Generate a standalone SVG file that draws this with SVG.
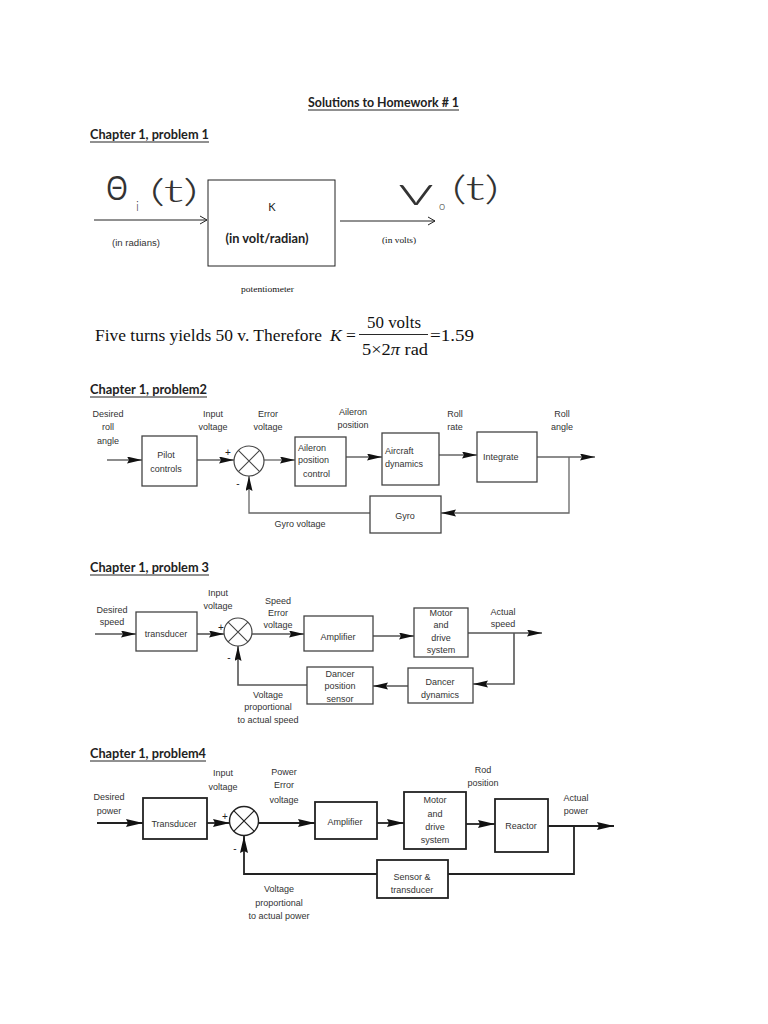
<svg xmlns="http://www.w3.org/2000/svg" width="768" height="1024" viewBox="0 0 768 1024">
<style>
.hd{font-family:Lato,"Liberation Sans",sans-serif;font-weight:bold;font-size:13px;fill:#222}
.ul{stroke:#222;stroke-width:1}
.box{fill:#fff;stroke:#444;stroke-width:1.3}
.box4{fill:#fff;stroke:#222;stroke-width:1.8}
.ln{fill:none;stroke:#666;stroke-width:1.3}
.ln3{fill:none;stroke:#555;stroke-width:1.6}
.ln4{fill:none;stroke:#222;stroke-width:1.8}
.thin{fill:none;stroke:#222;stroke-width:1}
.lbl{font-family:"Liberation Sans",Arial,sans-serif;font-size:9px;fill:#333;text-anchor:middle}
.lbs{font-family:"Liberation Sans",Arial,sans-serif;font-size:9px;fill:#333}
.sg{font-family:"Liberation Sans",Arial,sans-serif;font-size:10px;fill:#222;text-anchor:middle}
.ser{font-family:"Liberation Serif","Times New Roman",serif;fill:#111}
.hw{font-family:Lato,"Open Sans",sans-serif;font-weight:300;fill:#333}
.hwg{font-family:"Open Sans","Noto Sans","DejaVu Sans",sans-serif;fill:#333}
</style>
<defs>
<marker id="a" markerUnits="userSpaceOnUse" markerWidth="15" markerHeight="8" refX="15" refY="3.5" orient="auto"><path d="M0,0 L15,3.5 L0,7 L2,3.5 Z" fill="#111"/></marker>
<marker id="a4" markerUnits="userSpaceOnUse" markerWidth="17" markerHeight="9" refX="17" refY="4" orient="auto"><path d="M0,0 L17,4 L0,8 L2,4 Z" fill="#111"/></marker>
<marker id="o" markerUnits="userSpaceOnUse" markerWidth="9" markerHeight="10" refX="8" refY="5" orient="auto"><path d="M1,1 L8,5 L1,9" fill="none" stroke="#222" stroke-width="1"/></marker>
</defs>

<!-- Title -->
<g id="title">
<text class="hd" x="308" y="107" textLength="151" lengthAdjust="spacingAndGlyphs">Solutions to Homework # 1</text>
<line class="ul" x1="308" y1="110" x2="459" y2="110"/>
</g>

<!-- Problem 1 -->
<g id="p1-heading">
<text class="hd" x="90" y="139" textLength="119" lengthAdjust="spacingAndGlyphs">Chapter 1, problem 1</text>
<line class="ul" x1="90" y1="142" x2="209" y2="142"/>
</g>
<g id="p1-connectors">
<line class="thin" x1="94" y1="220" x2="207" y2="220" marker-end="url(#o)"/>
<line class="thin" x1="340" y1="221" x2="435" y2="221" marker-end="url(#o)"/>
</g>
<g id="p1-K">
<rect x="208" y="180" width="127" height="86" fill="#fff" stroke="#222" stroke-width="1"/>
<text x="272" y="211" font-family="Lato,'Liberation Sans',sans-serif" font-size="11" fill="#222" text-anchor="middle">K</text>
<text x="267" y="243" font-family="Lato,'Liberation Sans',sans-serif" font-size="12.5" font-weight="bold" fill="#222" text-anchor="middle" textLength="83" lengthAdjust="spacingAndGlyphs">(in volt/radian)</text>
</g>
<g id="p1-labels">
<text x="112" y="246" font-family="'Liberation Sans',Arial,sans-serif" font-size="8.5" fill="#333" textLength="48" lengthAdjust="spacingAndGlyphs">(in radians)</text>
<text x="382" y="243" class="ser" font-size="8" textLength="34" lengthAdjust="spacingAndGlyphs">(in volts)</text>
<text x="241" y="292" class="ser" font-size="8" textLength="53" lengthAdjust="spacingAndGlyphs">potentiometer</text>
<text class="hwg" x="106" y="200" font-size="32" textLength="22" lengthAdjust="spacingAndGlyphs">Θ</text>
<text class="hw" x="136" y="211" font-size="13">i</text>
<text class="hw" x="150" y="202" font-size="31" textLength="48" lengthAdjust="spacingAndGlyphs">(t)</text>
<text class="hw" x="398" y="205" font-size="40" textLength="36" lengthAdjust="spacingAndGlyphs">v</text>
<text class="hw" x="439" y="210" font-size="11">o</text>
<text class="hw" x="452" y="200" font-size="34" textLength="47" lengthAdjust="spacingAndGlyphs">(t)</text>
</g>
<g id="p1-formula">
<text class="ser" x="95" y="341" font-size="17.5" textLength="227" lengthAdjust="spacingAndGlyphs">Five turns yields 50 v. Therefore</text>
<text class="ser" x="330" y="341" font-size="17.5" font-style="italic">K</text>
<text class="ser" x="346" y="341" font-size="17.5">=</text>
<text class="ser" x="367" y="328" font-size="17" textLength="54" lengthAdjust="spacingAndGlyphs">50 volts</text>
<line x1="359" y1="334.5" x2="428" y2="334.5" stroke="#111" stroke-width="0.9"/>
<text class="ser" x="362" y="355" font-size="17" textLength="66" lengthAdjust="spacingAndGlyphs">5×2<tspan font-style="italic">π</tspan> rad</text>
<text class="ser" x="430" y="341" font-size="17.5" textLength="44" lengthAdjust="spacingAndGlyphs">=1.59</text>
</g>

<!-- Problem 2 -->
<g id="p2-heading">
<text class="hd" x="90" y="394" textLength="117" lengthAdjust="spacingAndGlyphs">Chapter 1, problem2</text>
<line class="ul" x1="90" y1="397" x2="207" y2="397"/>
</g>
<g id="p2-connectors">
<line class="ln" x1="107" y1="460" x2="142" y2="460" marker-end="url(#a)"/>
<line class="ln" x1="197" y1="460" x2="234" y2="460" marker-end="url(#a)"/>
<line class="ln" x1="264" y1="460" x2="295" y2="460" marker-end="url(#a)"/>
<line class="ln" x1="346" y1="457" x2="382" y2="457" marker-end="url(#a)"/>
<line class="ln" x1="439" y1="455" x2="477" y2="455" marker-end="url(#a)"/>
<line class="ln" x1="537" y1="457" x2="595" y2="457" marker-end="url(#a)"/>
<polyline class="ln" points="569,457 569,513 441,513" marker-end="url(#a)"/>
<polyline class="ln" points="370,513 249,513 249,476" marker-end="url(#a)"/>
</g>
<g id="p2-labels">
<text class="lbl" x="108" y="417">Desired</text>
<text class="lbl" x="108" y="430">roll</text>
<text class="lbl" x="108" y="444">angle</text>
<text class="lbl" x="213" y="417">Input</text>
<text class="lbl" x="213" y="430">voltage</text>
<text class="lbl" x="268" y="417">Error</text>
<text class="lbl" x="268" y="430">voltage</text>
<text class="lbl" x="353" y="415">Aileron</text>
<text class="lbl" x="353" y="428">position</text>
<text class="lbl" x="455" y="417">Roll</text>
<text class="lbl" x="455" y="430">rate</text>
<text class="lbl" x="562" y="417">Roll</text>
<text class="lbl" x="562" y="430">angle</text>
<text class="lbl" x="300" y="527">Gyro voltage</text>
<text class="sg" x="228" y="456">+</text>
<text class="sg" x="238" y="487">-</text>
</g>
<g id="p2-pilot"><rect class="box" x="142" y="436" width="55" height="50"/><text class="lbl" x="166" y="458">Pilot</text><text class="lbl" x="166" y="472">controls</text></g>
<g id="p2-sum"><circle cx="249" cy="461" r="15" fill="#fff" stroke="#444" stroke-width="1.2"/><path d="M238.4,450.4 L259.6,471.6 M259.6,450.4 L238.4,471.6" stroke="#444" stroke-width="1.1"/></g>
<g id="p2-aileron"><rect class="box" x="295" y="437" width="51" height="49"/><text class="lbs" x="298" y="451">Aileron</text><text class="lbs" x="298" y="463">position</text><text class="lbs" x="303" y="477">control</text></g>
<g id="p2-aircraft"><rect class="box" x="382" y="433" width="57" height="52"/><text class="lbs" x="385" y="454">Aircraft</text><text class="lbs" x="385" y="467">dynamics</text></g>
<g id="p2-integrate"><rect class="box" x="477" y="432" width="60" height="50"/><text class="lbs" x="483" y="460">Integrate</text></g>
<g id="p2-gyro"><rect class="box" x="370" y="496" width="71" height="37"/><text class="lbl" x="405" y="519">Gyro</text></g>

<!-- Problem 3 -->
<g id="p3-heading">
<text class="hd" x="90" y="572" textLength="119" lengthAdjust="spacingAndGlyphs">Chapter 1, problem 3</text>
<line class="ul" x1="90" y1="575" x2="209" y2="575"/>
</g>
<g id="p3-connectors">
<line class="ln3" x1="95" y1="634" x2="136" y2="634" marker-end="url(#a)"/>
<line class="ln3" x1="197" y1="634" x2="224" y2="634" marker-end="url(#a)"/>
<line class="ln3" x1="252" y1="634" x2="304" y2="634" marker-end="url(#a)"/>
<line class="ln3" x1="373" y1="636" x2="414" y2="636" marker-end="url(#a)"/>
<line class="ln3" x1="468" y1="633" x2="542" y2="633" marker-end="url(#a)"/>
<polyline class="ln3" points="514,633 514,684 473,684" marker-end="url(#a)"/>
<line class="ln3" x1="408" y1="686" x2="373" y2="686" marker-end="url(#a)"/>
<polyline class="ln3" points="307,685 238,685 238,646" marker-end="url(#a)"/>
</g>
<g id="p3-labels">
<text class="lbl" x="112" y="613">Desired</text>
<text class="lbl" x="112" y="625">speed</text>
<text class="lbl" x="218" y="596">Input</text>
<text class="lbl" x="218" y="609">voltage</text>
<text class="lbl" x="278" y="604">Speed</text>
<text class="lbl" x="278" y="616">Error</text>
<text class="lbl" x="278" y="628">voltage</text>
<text class="lbl" x="503" y="615">Actual</text>
<text class="lbl" x="503" y="627">speed</text>
<text class="lbl" x="268" y="698">Voltage</text>
<text class="lbl" x="268" y="710">proportional</text>
<text class="lbl" x="268" y="723">to actual speed</text>
<text class="sg" x="221" y="631">+</text>
<text class="sg" x="229" y="661">-</text>
</g>
<g id="p3-transducer"><rect class="box" x="136" y="612" width="61" height="39"/><text class="lbl" x="166" y="637">transducer</text></g>
<g id="p3-sum"><circle cx="238" cy="632" r="14" fill="#fff" stroke="#444" stroke-width="1.2"/><path d="M228.1,622.1 L247.9,641.9 M247.9,622.1 L228.1,641.9" stroke="#444" stroke-width="1.1"/></g>
<g id="p3-amplifier"><rect class="box" x="304" y="616" width="69" height="35"/><text class="lbl" x="338" y="640">Amplifier</text></g>
<g id="p3-motor"><rect class="box" x="414" y="608" width="54" height="49"/><text class="lbl" x="441" y="616">Motor</text><text class="lbl" x="441" y="628">and</text><text class="lbl" x="441" y="641">drive</text><text class="lbl" x="441" y="653">system</text></g>
<g id="p3-dancer-dyn"><rect class="box" x="408" y="668" width="65" height="35"/><text class="lbl" x="440" y="685">Dancer</text><text class="lbl" x="440" y="698">dynamics</text></g>
<g id="p3-dancer-sensor"><rect class="box" x="307" y="667" width="66" height="37"/><text class="lbl" x="340" y="677">Dancer</text><text class="lbl" x="340" y="689">position</text><text class="lbl" x="340" y="702">sensor</text></g>

<!-- Problem 4 -->
<g id="p4-heading">
<text class="hd" x="90" y="758" textLength="116" lengthAdjust="spacingAndGlyphs">Chapter 1, problem4</text>
<line class="ul" x1="90" y1="761" x2="206" y2="761"/>
</g>
<g id="p4-connectors">
<line class="ln4" x1="97" y1="823" x2="143" y2="823" marker-end="url(#a4)"/>
<line class="ln4" x1="207" y1="823" x2="230" y2="823" marker-end="url(#a4)"/>
<line class="ln4" x1="258" y1="823" x2="315" y2="823" stroke-width="1.3" marker-end="url(#a4)"/>
<line class="ln4" x1="377" y1="823" x2="404" y2="823" marker-end="url(#a4)"/>
<line class="ln4" x1="466" y1="824" x2="495" y2="824" stroke-width="1.3" marker-end="url(#a4)"/>
<line class="ln4" x1="548" y1="826" x2="614" y2="826" stroke-width="1.3" marker-end="url(#a4)"/>
<polyline class="ln4" points="574,826 574,874 448,874"/>
<polyline class="ln4" points="377,874 244,874 244,836" marker-end="url(#a4)"/>
</g>
<g id="p4-labels">
<text class="lbl" x="109" y="800">Desired</text>
<text class="lbl" x="109" y="814">power</text>
<text class="lbl" x="223" y="776">Input</text>
<text class="lbl" x="223" y="790">voltage</text>
<text class="lbl" x="284" y="775">Power</text>
<text class="lbl" x="284" y="788">Error</text>
<text class="lbl" x="284" y="803">voltage</text>
<text class="lbl" x="483" y="773">Rod</text>
<text class="lbl" x="483" y="786">position</text>
<text class="lbl" x="576" y="801">Actual</text>
<text class="lbl" x="576" y="814">power</text>
<text class="lbl" x="279" y="892">Voltage</text>
<text class="lbl" x="279" y="906">proportional</text>
<text class="lbl" x="279" y="919">to actual power</text>
<text class="sg" x="225" y="820" font-size="9">+</text>
<text class="sg" x="235" y="852">-</text>
</g>
<g id="p4-transducer"><rect class="box4" x="143" y="798" width="64" height="41"/><text class="lbl" x="174" y="827" font-size="9.5">Transducer</text></g>
<g id="p4-sum"><circle cx="244" cy="821" r="14.5" fill="#fff" stroke="#222" stroke-width="1.4"/><path d="M233.7,810.7 L254.3,831.3 M254.3,810.7 L233.7,831.3" stroke="#222" stroke-width="1.2"/></g>
<g id="p4-amplifier"><rect class="box4" x="315" y="802" width="62" height="37"/><text class="lbl" x="345" y="825">Amplifier</text></g>
<g id="p4-motor"><rect class="box4" x="404" y="792" width="62" height="57"/><text class="lbl" x="435" y="803">Motor</text><text class="lbl" x="435" y="817">and</text><text class="lbl" x="435" y="830">drive</text><text class="lbl" x="435" y="843">system</text></g>
<g id="p4-reactor"><rect class="box4" x="495" y="799" width="53" height="53"/><text class="lbl" x="521" y="829">Reactor</text></g>
<g id="p4-sensor"><rect class="box4" x="377" y="860" width="71" height="38"/><text class="lbl" x="412" y="880">Sensor &amp;</text><text class="lbl" x="412" y="893">transducer</text></g>
</svg>
